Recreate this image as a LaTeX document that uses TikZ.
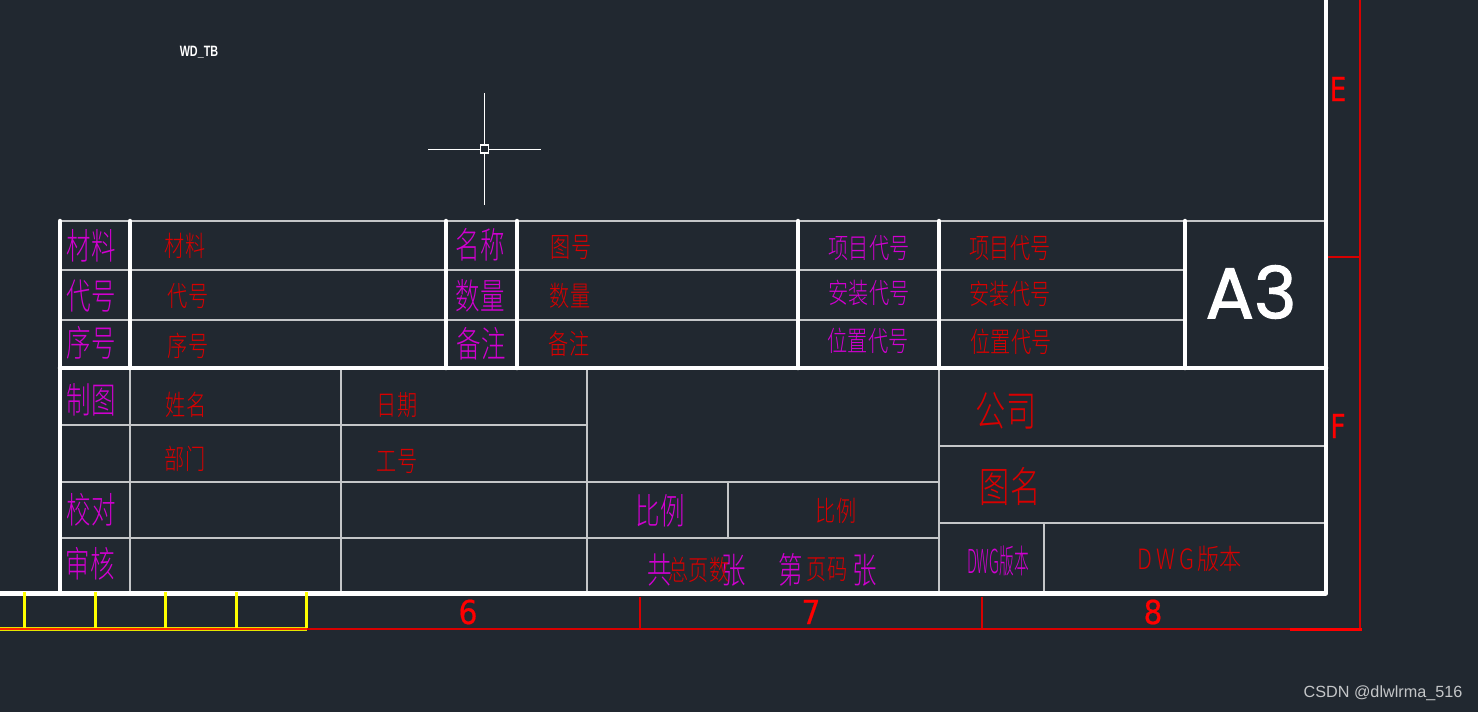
\documentclass[tikz,border=0pt]{standalone}
\usepackage{fontspec}
\setmainfont{Liberation Sans}
\newfontfamily\cjk{Noto Sans CJK SC Light}
\newfontfamily\nums{DejaVu Sans}[FakeBold=.6]
\newfontfamily\sizefont{Poppins}[FakeBold=1.6]
\definecolor{cadbg}{HTML}{212830}
\definecolor{cadmag}{HTML}{D000D0}
\definecolor{cadred}{HTML}{D80000}
\definecolor{cadline}{HTML}{C4C6C8}
\definecolor{cadyel}{HTML}{FFFF00}
\tikzset{
	thinrule/.style={draw=cadline, line width=1.2pt},
	thickrule/.style={draw=white, line width=4.5pt, line cap=round},
	redrule/.style={draw=cadred, line width=1.2pt},
	yelrule/.style={draw=cadyel, line width=3pt},
	lab/.style={inner sep=0pt, outer sep=0pt, anchor=center},
	magbig/.style={lab, text=cadmag, xscale=.68, font=\cjk\fontsize{36}{36}\selectfont},
	magmid/.style={lab, text=cadmag, xscale=.72, font=\cjk\fontsize{28}{28}\selectfont},
	redlab/.style={lab, text=cadred, xscale=.72, font=\cjk\fontsize{28}{28}\selectfont},
	redbig/.style={lab, text=cadred, xscale=.72, font=\cjk\fontsize{42}{42}\selectfont},
	zone/.style={lab, text=red, font=\nums\fontsize{33}{33}\selectfont},
}
\begin{document}
\begin{tikzpicture}[x=1pt, y=-1pt]
	\useasboundingbox (0,0) rectangle (1478,712);
	\fill[cadbg] (0,0) rectangle (1478,712);
	% red frame and zones
	\draw[redrule] (307,629) -- (1360,629) -- (1360,0);
	\draw[redrule] (640,597) -- (640,629);
	\draw[redrule] (982,597) -- (982,629);
	\draw[redrule] (1326,257) -- (1360,257);
	\draw[draw=red, line width=3.2pt] (1290,629.5) -- (1362,629.5);
	% thin rules, upper block
	\draw[thinrule] (60,221) -- (1325,221);
	\draw[thinrule] (60,270) -- (1185,270);
	\draw[thinrule] (60,320) -- (1185,320);
	% thin rules, lower block
	\draw[thinrule] (60,425) -- (587,425);
	\draw[thinrule] (60,482) -- (939,482);
	\draw[thinrule] (60,538) -- (939,538);
	\draw[thinrule] (939,446) -- (1325,446);
	\draw[thinrule] (939,523) -- (1325,523);
	\draw[thinrule] (130,368) -- (130,593);
	\draw[thinrule] (341,368) -- (341,593);
	\draw[thinrule] (587,368) -- (587,593);
	\draw[thinrule] (939,368) -- (939,593);
	\draw[thinrule] (728,482) -- (728,538);
	\draw[thinrule] (1044,523) -- (1044,593);
	% thick rules
	\foreach \x in {130,446,517,798,939,1185}
		\draw[thickrule] (\x,221) -- (\x,368);
	\draw[thickrule] (60,221) -- (60,593);
	\draw[thickrule] (60,368) -- (1326,368);
	\draw[thickrule, line cap=butt] (0,593.5) -- (1326,593.5);
	\draw[thickrule] (1326,593.5) -- (1326,-4);
	% yellow ruler
	\draw[draw=cadyel!90!black, line width=4pt] (0,629) -- (307,629);
	\draw[draw=red!70!orange, line width=1.2pt] (0,629) -- (307,629);
	\foreach \x in {24,95,165,236,306}
		\draw[yelrule] (\x,592) -- (\x,628);
	% cursor
	\draw[draw=white, line width=1pt] (428,149) -- (541,149);
	\draw[draw=white, line width=1pt] (484.5,93) -- (484.5,205);
	\draw[draw=white, line width=1.2pt, fill=cadbg] (480.5,145) rectangle (488.5,153);
	% labels
	\node (wdtb) [lab, text=white, xscale=.72, font=\bfseries\fontsize{15}{15}\selectfont] at (199,52) {WD\_TB};
	\node (cl1) [magbig] at (91,246) {材料};
	\node (cl2) [magbig] at (91,296) {代号};
	\node (cl3) [magbig] at (91,343) {序号};
	\node (cl4) [magbig] at (480,245) {名称};
	\node (cl5) [magbig] at (480,296) {数量};
	\node (cl6) [magbig] at (481,344) {备注};
	\node (cl7) [magmid] at (869,248) {项目代号};
	\node (cl8) [magmid] at (869,293) {安装代号};
	\node (cl9) [magmid] at (868,341) {位置代号};
	\node (cl10) [magbig] at (91,400) {制图};
	\node (cl11) [magbig] at (91,510) {校对};
	\node (cl12) [magbig] at (90,564) {审核};
	\node (cl13) [magbig] at (660,511) {比例};
	\node (cl14) [magmid, xscale=.62, font=\cjk\fontsize{33}{33}\selectfont] at (998,561) {DWG版本};
	\node (cl15) [magbig] at (660,570) {共};
	\node (cl16) [magbig] at (734,570) {张};
	\node (cl17) [magbig] at (791,570) {第};
	\node (cl18) [magbig] at (865,570) {张};
	\node (vl1) [redlab] at (185,246) {材料};
	\node (vl2) [redlab] at (188,296) {代号};
	\node (vl3) [redlab] at (188,346) {序号};
	\node (vl4) [redlab] at (571,247) {图号};
	\node (vl5) [redlab] at (570,296) {数量};
	\node (vl6) [redlab] at (569,344) {备注};
	\node (vl7) [redlab] at (1010,248) {项目代号};
	\node (vl8) [redlab] at (1010,294) {安装代号};
	\node (vl9) [redlab] at (1011,342) {位置代号};
	\node (vl10) [redlab] at (186,405) {姓名};
	\node (vl11) [redlab] at (397,405) {日期};
	\node (vl12) [redlab] at (185,459) {部门};
	\node (vl13) [redlab] at (397,461) {工号};
	\node (vl14) [redbig] at (1006,411) {公司};
	\node (vl15) [redbig] at (1010,486) {图名};
	\node (vl16) [redlab] at (836,511) {比例};
	\node (vl17) [redlab, xscale=1.1] at (1190,559) {D\,W\,G\,版本};
	\node (vl18) [redlab] at (699,570) {总页数};
	\node (vl19) [redlab] at (827,570) {页码};
	\node (z6) [zone, xscale=.9] at (468,612) {6};
	\node (z7) [zone, xscale=.9] at (811,612) {7};
	\node (z8) [zone, xscale=.9] at (1153,612) {8};
	\node (ze) [zone, xscale=.8] at (1338,89) {E};
	\node (zf) [zone, xscale=.8] at (1338,426) {F};
	\node (fmt) [lab, text=white, font=\sizefont\fontsize{72}{72}\selectfont] at (1251,292) {A3};
	\node (mark) [lab, text=cadline, font=\fontsize{16.2}{16.2}\selectfont] at (1383,693) {CSDN @dlwlrma\_516};
\end{tikzpicture}
\end{document}
